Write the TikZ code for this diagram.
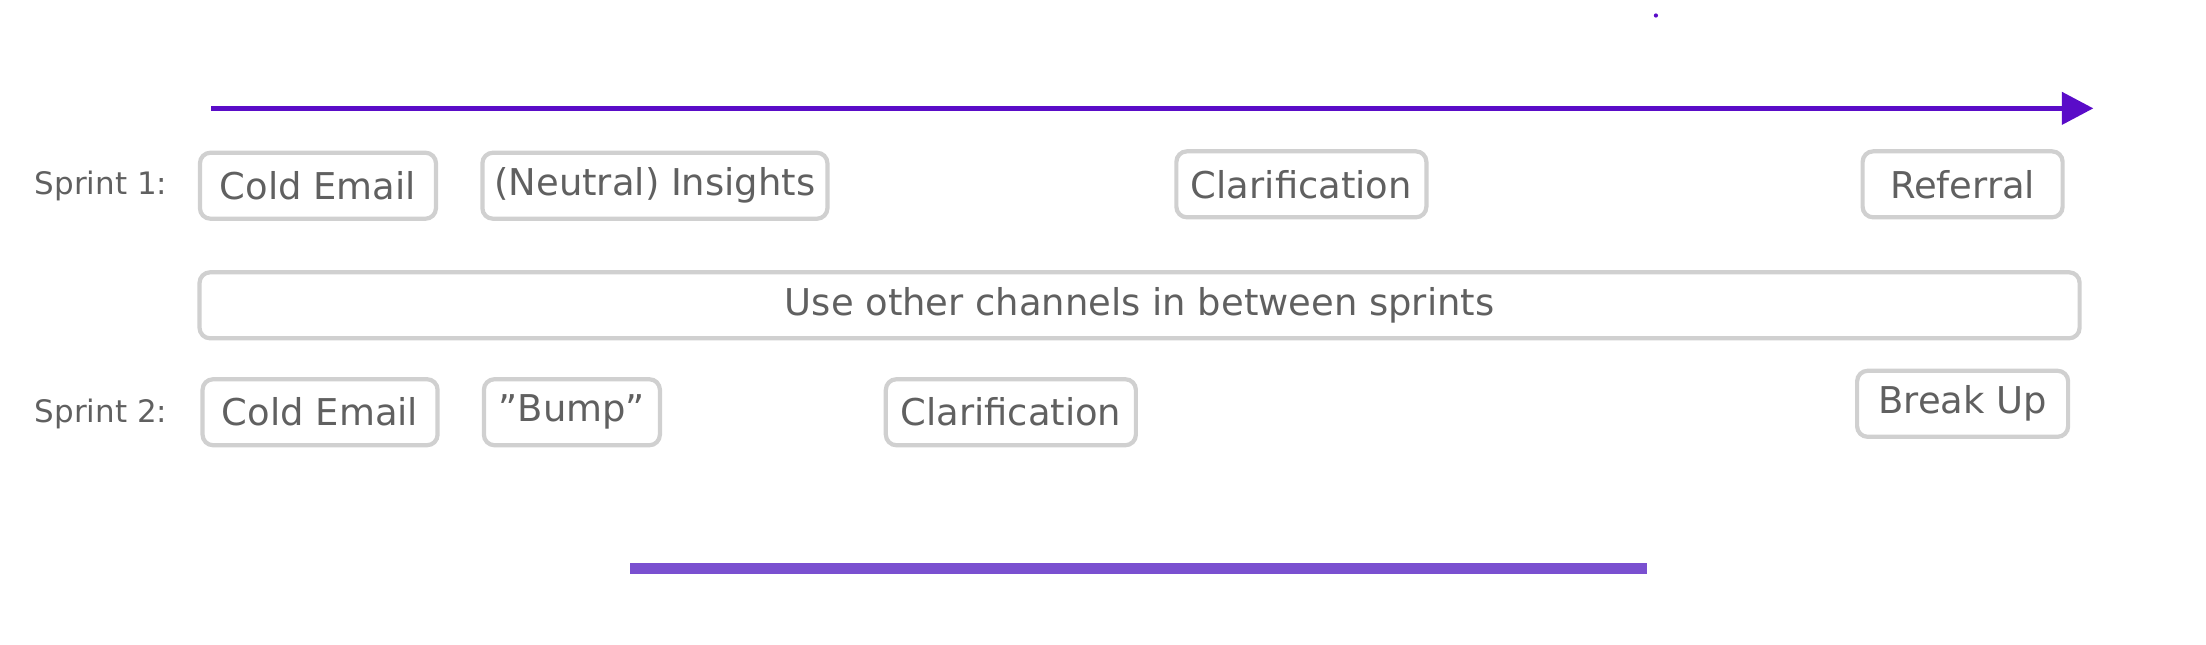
\documentclass[tikz,border=0pt]{standalone}
\usepackage{fontspec}
\setmainfont{DejaVu Sans}
\usetikzlibrary{arrows.meta}
\definecolor{arrowviolet}{HTML}{5A0CC8}
\definecolor{barviolet}{HTML}{7A50D0}
\definecolor{boxgray}{HTML}{D0D0D0}
\definecolor{textgray}{HTML}{606060}
\begin{document}
\begin{tikzpicture}[x=0.01407cm,y=-0.01407cm,
    stepbox/.style={draw=boxgray, line width=1.2pt, rounded corners=3pt, text=textgray,
      font=\fontsize{10.5}{12}\selectfont, inner sep=0pt, minimum height=0.66cm},
    sprint/.style={text=textgray, font=\fontsize{8.8}{10}\selectfont, anchor=west}]
    \useasboundingbox (0,0) rectangle (1568,458);

    % time line
    \coordinate (start) at (150,77);
    \coordinate (stop) at (1488,77);
    \draw[arrowviolet, line width=1.6pt, -{Triangle[length=9pt,width=9pt]}] (start) -- (stop);
    \fill[arrowviolet] (1177,11) circle (0.6pt);

    % sprint 1
    \node[sprint] (s1) at (16,132) {Sprint 1:};
    \node[stepbox, minimum width=2.36cm] (cold1) at (226,132) {Cold Email};
    \node[stepbox, minimum width=3.45cm] (insight) at (465.5,132) {(Neutral) Insights};
    \node[stepbox, minimum width=2.5cm] (clar1) at (925,131) {Clarification};
    \node[stepbox, minimum width=2cm] (referral) at (1395,131) {Referral};

    \node[stepbox, minimum width=18.8cm] (between) at (810,217) {Use other channels in between sprints};

    % sprint 2
    \node[sprint] (s2) at (16,294) {Sprint 2:};
    \node[stepbox, minimum width=2.35cm] (cold2) at (227.5,293) {Cold Email};
    \node[stepbox, minimum width=1.76cm] (bump) at (406.5,293) {"Bump"};
    \node[stepbox, minimum width=2.5cm] (clar2) at (718.5,293) {Clarification};
    \node[stepbox, minimum width=2.11cm] (breakup) at (1395,287) {Break Up};

    \coordinate (barl) at (448,404);
    \coordinate (barr) at (1171,404);
    \draw[barviolet, line width=3.2pt] (barl) -- (barr);
\end{tikzpicture}
\end{document}
